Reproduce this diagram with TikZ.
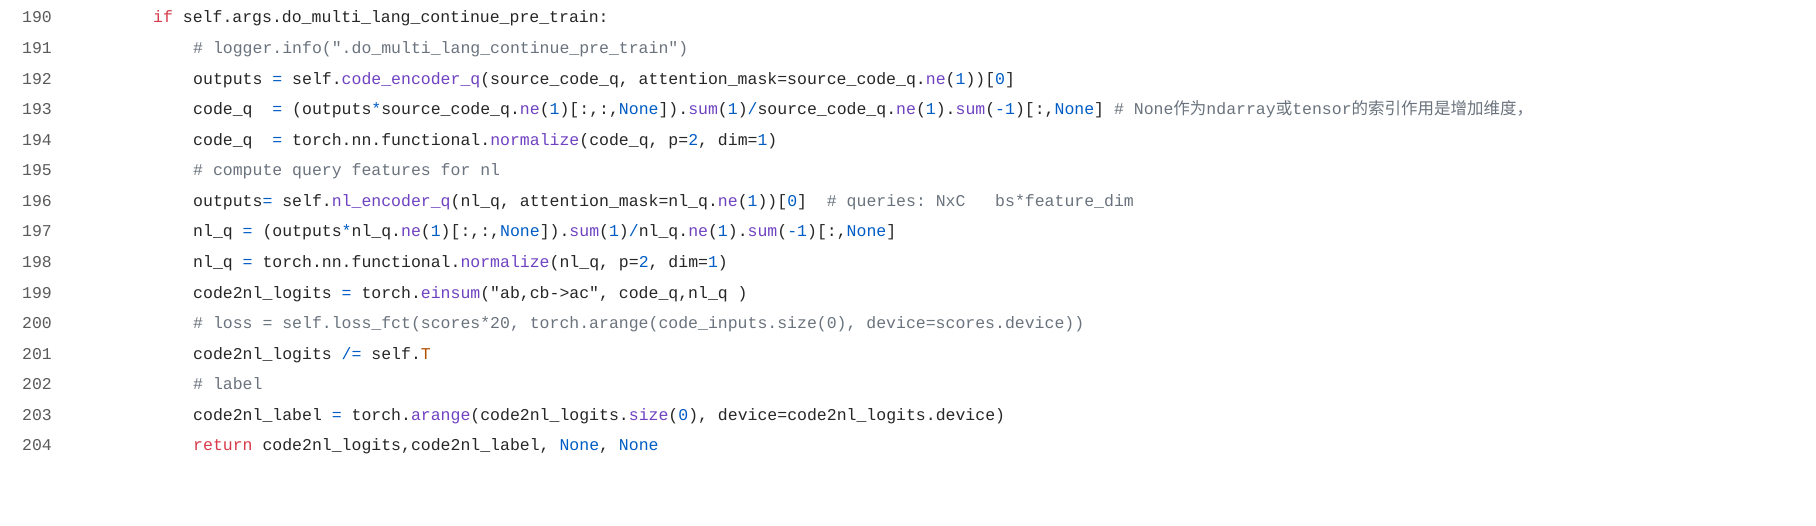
\documentclass[tikz,border=0pt]{standalone}
\usepackage{fontspec}
\setmonofont{Liberation Mono}
\newfontfamily\cjk{Noto Sans CJK SC}
\definecolor{kwc}{RGB}{215,58,73}
\definecolor{fnc}{RGB}{111,66,193}
\definecolor{nmc}{RGB}{0,92,197}
\definecolor{cmc}{RGB}{106,115,125}
\definecolor{lnc}{RGB}{90,90,90}
\definecolor{tc}{RGB}{178,80,0}
\newcommand\ck[1]{\textcolor{kwc}{#1}}
\newcommand\cf[1]{\textcolor{fnc}{#1}}
\newcommand\cn[1]{\textcolor{nmc}{#1}}
\newcommand\cc[1]{\textcolor{cmc}{#1}}
\tikzset{code/.style={anchor=base west,inner sep=0pt,font=\fontsize{16.5}{18}\ttfamily,text=black!85},
lnum/.style={anchor=base west,inner sep=0pt,font=\fontsize{16.5}{18}\ttfamily,text=lnc}}
\begin{document}
\begin{tikzpicture}[x=1pt,y=-1pt]
\useasboundingbox (0,0) rectangle (1816,526);
\foreach \n [count=\i from 0] in {190,...,204}
  \node[lnum] (ln\n) at (22,{23+30.57*\i}) {\n};
\def\Y#1{{23+30.57*#1}}
\node[code] (l190) at (153,\Y0) {\ck{if} self.args.do\_multi\_lang\_continue\_pre\_train:};
\node[code] (l191) at (193,\Y1) {\cc{\# logger.info(".do\_multi\_lang\_continue\_pre\_train")}};
\node[code] (l192) at (193,\Y2) {outputs \cn{=} self.\cf{code\_encoder\_q}(source\_code\_q, attention\_mask=source\_code\_q.\cf{ne}(\cn{1}))[\cn{0}]};
\node[code] (l193) at (193,\Y3) {code\_q~ \cn{=} (outputs\cn{*}source\_code\_q.\cf{ne}(\cn{1})[:,:,\cn{None}]).\cf{sum}(\cn{1})\cn{/}source\_code\_q.\cf{ne}(\cn{1}).\cf{sum}(\cn{-1})[:,\cn{None}] \cc{\# None{\cjk 作为}ndarray{\cjk 或}tensor{\cjk 的索引作用是增加维度，}}};
\node[code] (l194) at (193,\Y4) {code\_q~ \cn{=} torch.nn.functional.\cf{normalize}(code\_q, p=\cn{2}, dim=\cn{1})};
\node[code] (l195) at (193,\Y5) {\cc{\# compute query features for nl}};
\node[code] (l196) at (193,\Y6) {outputs\cn{=} self.\cf{nl\_encoder\_q}(nl\_q, attention\_mask=nl\_q.\cf{ne}(\cn{1}))[\cn{0}]~ \cc{\# queries: NxC~~ bs*feature\_dim}};
\node[code] (l197) at (193,\Y7) {nl\_q \cn{=} (outputs\cn{*}nl\_q.\cf{ne}(\cn{1})[:,:,\cn{None}]).\cf{sum}(\cn{1})\cn{/}nl\_q.\cf{ne}(\cn{1}).\cf{sum}(\cn{-1})[:,\cn{None}]};
\node[code] (l198) at (193,\Y8) {nl\_q \cn{=} torch.nn.functional.\cf{normalize}(nl\_q, p=\cn{2}, dim=\cn{1})};
\node[code] (l199) at (193,\Y9) {code2nl\_logits \cn{=} torch.\cf{einsum}("ab,cb->ac", code\_q,nl\_q )};
\node[code] (l200) at (193,\Y{10}) {\cc{\# loss = self.loss\_fct(scores*20, torch.arange(code\_inputs.size(0), device=scores.device))}};
\node[code] (l201) at (193,\Y{11}) {code2nl\_logits \cn{/=} self.\textcolor{tc}{T}};
\node[code] (l202) at (193,\Y{12}) {\cc{\# label}};
\node[code] (l203) at (193,\Y{13}) {code2nl\_label \cn{=} torch.\cf{arange}(code2nl\_logits.\cf{size}(\cn{0}), device=code2nl\_logits.device)};
\node[code] (l204) at (193,\Y{14}) {\ck{return} code2nl\_logits,code2nl\_label, \cn{None}, \cn{None}};
\end{tikzpicture}
\end{document}
